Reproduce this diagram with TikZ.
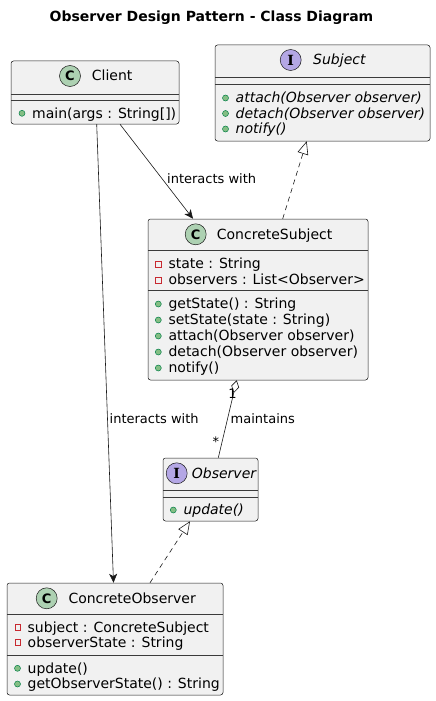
\documentclass[tikz,border=0pt]{standalone}
\usepackage{fontspec}
\setmainfont{DejaVu Sans}
\newfontfamily\iconserif{DejaVu Serif}
\usetikzlibrary{arrows.meta,calc}
\definecolor{boxfill}{HTML}{F1F1F1}
\definecolor{boxline}{HTML}{181818}
\definecolor{cfill}{HTML}{ADD1B2}
\definecolor{ifill}{HTML}{B4A7E5}
\definecolor{pubfill}{HTML}{84BE84}
\definecolor{publine}{HTML}{038048}
\definecolor{privline}{HTML}{C82930}
% name, x, y(center), text
\newcommand\pubm[4]{%
  \filldraw[fill=pubfill,draw=publine,line width=0.5pt] (#2-10,#3) circle (3pt);
  \node[member] (#1) at (#2,#3+4.8) {#4};}
\newcommand\privm[4]{%
  \draw[privline,line width=0.5pt] (#2-12.6,#3-2.8) rectangle ++(5.6,5.6);
  \node[member] (#1) at (#2,#3+4.8) {#4};}
\begin{document}
\begin{tikzpicture}[x=1pt,y=-1pt,
  classbox/.style={draw=boxline,fill=boxfill,rounded corners=2.5pt,line width=0.5pt,inner sep=0pt},
  member/.style={inner sep=0pt,anchor=base west,font=\fontsize{14}{16}\selectfont,text=black},
  ctitle/.style={inner sep=0pt,anchor=base west,font=\fontsize{14}{16}\selectfont,text=black},
  cicon/.style={circle,draw=boxline,fill=cfill,line width=0.5pt,minimum size=21pt,inner sep=0pt,font=\fontsize{13}{13}\selectfont\bfseries},
  iicon/.style={circle,draw=boxline,fill=ifill,line width=0.5pt,minimum size=21pt,inner sep=0pt,font=\fontsize{14}{14}\selectfont\iconserif\bfseries},
  sep/.style={draw=boxline!85,line width=0.45pt},
  lbl/.style={inner sep=0pt,font=\fontsize{13}{15}\selectfont,text=black},
  assoc/.style={draw=boxline,line width=0.6pt,-{Stealth[length=9pt,width=8pt,inset=2.5pt]}},
  real/.style={draw=boxline,line width=0.6pt,dash pattern=on 5pt off 4pt,-{Triangle[open,length=13pt,width=11pt,fill=white]}},
  aggr/.style={draw=boxline,line width=0.6pt,{Diamond[open,length=13pt,width=8pt,fill=white]}-}
]
\fill[white] (0,0) rectangle (436,701);
\useasboundingbox (0,0) rectangle (436,701);

\node[inner sep=0pt,font=\fontsize{14}{16}\selectfont\bfseries] (title) at (211.5,18) {Observer Design Pattern - Class Diagram};

% Client
\node[classbox,minimum width=168pt,minimum height=63pt] (client) at (95,92.5) {};
% Subject
\node[classbox,minimum width=215pt,minimum height=96pt] (subject) at (322.5,93) {};
% ConcreteSubject
\node[classbox,minimum width=220pt,minimum height=161pt] (csubj) at (258,299.5) {};
% Observer
\node[classbox,minimum width=95pt,minimum height=63pt] (observer) at (210.5,489.5) {};
% ConcreteObserver
\node[classbox,minimum width=216pt,minimum height=112pt] (cobs) at (115,639) {};

% connectors
\draw[assoc] ([xshift=25pt]client.south) -- ([xshift=-65pt]csubj.north);
\draw[assoc] ([xshift=1.7pt]client.south) -- ([xshift=-1.5pt]cobs.north);
\draw[real] ([xshift=24.7pt]csubj.north) -- ([xshift=-15.8pt]subject.south);
\draw[aggr] ([xshift=-21.3pt]csubj.south) -- ([xshift=7.8pt]observer.north);
\draw[real] ([xshift=35pt]cobs.north) -- ([xshift=-20.5pt]observer.south);

\node[lbl,anchor=west] (l1) at (167,179) {interacts with};
\node[lbl,anchor=west] (l2) at (109.5,418.5) {interacts with};
\node[lbl,anchor=west] (l3) at (230.5,418.5) {maintains};
\node[lbl] (m1) at (232.5,394) {1};
\node[lbl] (m2) at (215.8,442) {*};

% Client contents
\draw[sep] (11,94) -- (179,94);
\draw[sep] (11,100) -- (179,100);
\node[cicon] (clienticon) at (70,76) {C};
\node[ctitle] (clientname) at (91.7,81) {Client};
\pubm{cm1}{32}{113.3}{main(args : String[])}

% Subject contents
\draw[sep] (215,77) -- (430,77);
\draw[sep] (215,84) -- (430,84);
\node[iicon] (subjecticon) at (290.7,60) {I};
\node[ctitle,font=\fontsize{14}{16}\selectfont\itshape] (subjectname) at (313,65) {Subject};
\pubm{sm1}{235.5}{98}{\itshape attach(Observer observer)}
\pubm{sm2}{235.5}{113.5}{\itshape detach(Observer observer)}
\pubm{sm3}{235.5}{129}{\itshape notify()}

% ConcreteSubject contents
\draw[sep] (148,250.7) -- (368,250.7);
\draw[sep] (148,290.7) -- (368,290.7);
\node[cicon] (csubjicon) at (195.7,234.3) {C};
\node[ctitle] (csubjname) at (216.7,239.3) {ConcreteSubject};
\privm{csf1}{168.3}{264}{state : String}
\privm{csf2}{168.3}{280}{observers : List<Observer>}
\pubm{csm1}{168.3}{304}{getState() : String}
\pubm{csm2}{168.3}{320}{setState(state : String)}
\pubm{csm3}{168.3}{336}{attach(Observer observer)}
\pubm{csm4}{168.3}{352}{detach(Observer observer)}
\pubm{csm5}{168.3}{368}{notify()}

% Observer contents
\draw[sep] (163,490) -- (258,490);
\draw[sep] (163,497) -- (258,497);
\node[iicon] (observericon) at (176.7,473.3) {I};
\node[ctitle,font=\fontsize{14}{16}\selectfont\itshape] (observername) at (191.7,478.3) {Observer};
\pubm{om1}{183.3}{510}{\itshape update()}

% ConcreteObserver contents
\draw[sep] (7,614) -- (223,614);
\draw[sep] (7,655) -- (223,655);
\node[cicon] (cobsicon) at (46.7,598.3) {C};
\node[ctitle] (cobsname) at (68.3,603.3) {ConcreteObserver};
\privm{cof1}{27.5}{627.5}{subject : ConcreteSubject}
\privm{cof2}{27.5}{642.5}{observerState : String}
\pubm{com1}{27.5}{668.3}{update()}
\pubm{com2}{27.5}{684}{getObserverState() : String}
\end{tikzpicture}
\end{document}
